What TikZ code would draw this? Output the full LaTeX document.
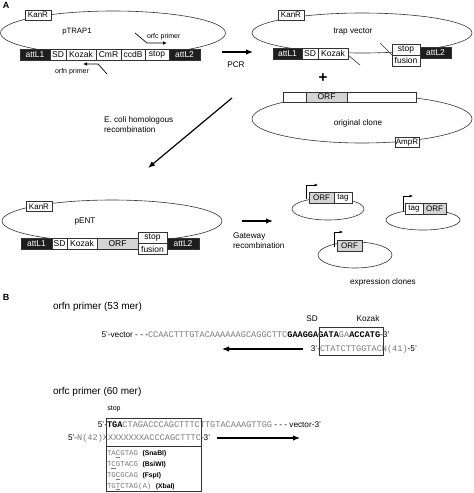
\documentclass[tikz,border=0pt]{standalone}
\usepackage{fontspec}
\setmainfont{Liberation Sans}
\newfontfamily\seqfont{Liberation Mono}
\usetikzlibrary{arrows.meta,positioning}

\definecolor{seqgray}{HTML}{7A7A7A}
\definecolor{orfgray}{HTML}{D4D4D4}
\definecolor{attblack}{HTML}{1E1E1E}
\definecolor{linegray}{HTML}{333333}

\newcommand{\gr}[1]{\textcolor{seqgray}{#1}}
\newcommand{\enz}[1]{{\normalfont\bfseries\fontsize{6.8}{7}\selectfont #1}}

\begin{document}
\begin{tikzpicture}[x=1pt, y=-1pt,
    every node/.style={inner sep=0pt, outer sep=0pt},
    blk/.style={draw=linegray, fill=white, line width=0.6pt, minimum height=11pt,
      font=\fontsize{8.5}{9}\selectfont},
    attblk/.style={blk, fill=attblack, text=white},
    orfblk/.style={blk, fill=orfgray},
    markerbox/.style={blk, minimum height=10pt, font=\fontsize{8}{9}\selectfont},
    clonebox/.style={blk, font=\fontsize{8}{9}\selectfont},
    plasmid/.style={draw=linegray, line width=0.6pt},
    bigarrow/.style={line width=1.2pt, -{Latex[length=7pt,width=5.5pt]}},
    primer/.style={line width=0.7pt, -{Latex[length=4pt,width=3.5pt]}},
    promoter/.style={line width=0.6pt, -{Latex[length=3.5pt,width=3pt]}},
    lbl/.style={font=\fontsize{8.2}{10.5}\selectfont},
    small/.style={font=\fontsize{7}{8}\selectfont},
    head/.style={font=\fontsize{10}{12}\selectfont},
    panel/.style={font=\bfseries\fontsize{9}{10}\selectfont},
    seq/.style={font=\seqfont\fontsize{8.6}{9}\selectfont},
    siteseq/.style={font=\seqfont\fontsize{7.4}{8}\selectfont},
  ]
\useasboundingbox (0,0) rectangle (474,493);

\node[panel] (panelA) at (6,5) {A};

\draw[plasmid] (113,33) ellipse [x radius=112.5pt, y radius=22pt];
\node[markerbox, minimum width=26pt] (pKanR) at (38,15) {KanR};
\node[font=\fontsize{7.7}{9}\selectfont] (ptrapName) at (77,32) {pTRAP1};
\node[attblk, minimum width=30pt, anchor=west] (pattL1) at (20,54.5) {attL1};
\node[blk, minimum width=16pt, right=0pt of pattL1] (pSD) {SD};
\node[blk, minimum width=30pt, right=0pt of pSD] (pKozak) {Kozak};
\node[blk, minimum width=25pt, right=0pt of pKozak] (pCmR) {CmR};
\node[blk, minimum width=24pt, right=0pt of pCmR] (pccdB) {ccdB};
\node[blk, minimum width=24pt, right=0pt of pccdB] (pstop) {stop};
\node[attblk, minimum width=31pt, right=0pt of pstop] (pattL2) {attL2};
\coordinate (orfcFrom) at (135,33);
\coordinate (orfcBend) at (147,43);
\coordinate (orfcTo) at (167,43);
\draw[primer] (orfcFrom) -- (orfcBend) -- (orfcTo);
\node[small, anchor=west] (orfcLbl) at (147,37) {orfc primer};
\coordinate (orfnFrom) at (107,74);
\coordinate (orfnBend) at (98,64);
\coordinate (orfnTo) at (83,64);
\draw[primer] (orfnFrom) -- (orfnBend) -- (orfnTo);
\node[small] (orfnLbl) at (72,72) {orfn primer};

\coordinate (pcrFrom) at (222,52);
\coordinate (pcrTo) at (253,52);
\draw[bigarrow] (pcrFrom) -- (pcrTo);
\node[lbl] (pcrLbl) at (236,65) {PCR};

\draw[plasmid] (362,33) ellipse [x radius=110pt, y radius=20pt];
\node[markerbox, minimum width=26pt] (tKanR) at (291,15) {KanR};
\node[lbl] (trapName) at (353,32) {trap vector};
\node[attblk, minimum width=29pt, anchor=west] (tattL1) at (273,53.5) {attL1};
\node[blk, minimum width=16pt, right=0pt of tattL1] (tSD) {SD};
\node[blk, minimum width=30pt, right=0pt of tSD] (tKozak) {Kozak};
\node[blk, minimum width=28pt, anchor=south west] (tstop) at (392,55) {stop};
\node[blk, minimum width=28pt, below=0pt of tstop] (tfusion) {fusion};
\node[attblk, minimum width=31pt, anchor=west] (tattL2) at (420,53) {attL2};
\coordinate (tcutL) at (360,65);
\coordinate (tcutR) at (380,43);
\draw[plasmid] ([yshift=-1.5pt]tKozak.east) -- (tcutL);
\draw[plasmid] (tcutR) -- (tstop.south west);

\node[font=\bfseries\fontsize{15}{15}\selectfont] (plus) at (323,78) {+};

\draw[plasmid] (362,119) ellipse [x radius=110pt, y radius=24pt];
\node[blk, minimum width=23pt, minimum height=10pt, anchor=west] (oLeft) at (283,97) {};
\node[orfblk, minimum width=41pt, minimum height=10pt, right=0pt of oLeft] (oORF) {ORF};
\node[blk, minimum width=69pt, minimum height=10pt, right=0pt of oORF] (oRight) {};
\node[lbl] (origName) at (358,123) {original clone};
\node[markerbox, minimum width=24pt] (oAmpR) at (407,142.5) {AmpR};

\coordinate (ecoliFrom) at (232,98);
\coordinate (ecoliTo) at (148,168);
\draw[bigarrow] (ecoliFrom) -- (ecoliTo);
\node[lbl, anchor=west, align=left] (ecoliLbl) at (104,124.5) {E. coli homologous\\recombination};

\draw[plasmid] (112,221) ellipse [x radius=110pt, y radius=21pt];
\node[markerbox, minimum width=26pt] (eKanR) at (39,206.5) {KanR};
\node[lbl] (pentName) at (85,222) {pENT};
\node[attblk, minimum width=31pt, anchor=west] (eattL1) at (21,243.5) {attL1};
\node[blk, minimum width=15pt, right=0pt of eattL1] (eSD) {SD};
\node[blk, minimum width=30pt, right=0pt of eSD] (eKozak) {Kozak};
\node[orfblk, minimum width=41pt, right=0pt of eKozak] (eORF) {ORF};
\node[blk, minimum width=29pt, anchor=south west] (estop) at (eORF.east) {stop};
\node[blk, minimum width=29pt, below=0pt of estop] (efusion) {fusion};
\node[attblk, minimum width=32pt, anchor=west] (eattL2) at (efusion.north east) {attL2};

\coordinate (gwFrom) at (242,221);
\coordinate (gwTo) at (273,221);
\draw[bigarrow] (gwFrom) -- (gwTo);
\node[lbl, anchor=west, align=left] (gwLbl) at (233,240.5) {Gateway\\recombination};

\draw[plasmid] (328,209) ellipse [x radius=36pt, y radius=11pt];
\node[clonebox, fill=orfgray, minimum width=25pt, anchor=west] (xaORF) at (309,197.5) {ORF};
\node[clonebox, minimum width=18pt, right=0pt of xaORF] (xaTag) {tag};
\coordinate (xaProm) at (306,199);
\coordinate (xaPromTo) at (318,185);
\draw[promoter] (xaProm) |- (xaPromTo);

\draw[plasmid] (423,220) ellipse [x radius=37pt, y radius=10pt];
\node[clonebox, minimum width=18pt, anchor=west] (xbTag) at (405,209) {tag};
\node[clonebox, fill=orfgray, minimum width=23pt, right=0pt of xbTag] (xbORF) {ORF};
\coordinate (xbProm) at (403,211);
\coordinate (xbPromTo) at (413,196);
\draw[promoter] (xbProm) |- (xbPromTo);

\draw[plasmid] (355,255) ellipse [x radius=37pt, y radius=13pt];
\node[clonebox, fill=orfgray, minimum width=25pt, anchor=west] (xcORF) at (337,245.5) {ORF};
\coordinate (xcProm) at (334,247);
\coordinate (xcPromTo) at (343,232);
\draw[promoter] (xcProm) |- (xcPromTo);
\node[lbl] (exprName) at (383,282) {expression clones};

\node[panel] (panelB) at (6,297) {B};
\node[head, anchor=west] (orfnHead) at (53,307) {orfn primer (53 mer)};
\node[lbl] (sdLbl) at (312,319) {SD};
\node[lbl] (kozakLbl) at (368,319) {Kozak};
\node[lbl, anchor=base east] (nVec) at (148,337) {5'-vector - - -\ };
\node[seq, anchor=base west] (nTop) at (148,337)
  {\gr{CCAACTTTGTACAAAAAAGCAGGCTTC}\textbf{GAAGGAGATA}\gr{GA}\textbf{ACCATG}};
\node[lbl, anchor=base west] (nTop3) at (nTop.base east) {-3'};
\node[lbl, anchor=base east] (nBot3) at (320,351) {3'-};
\node[seq, anchor=base west] (nBot) at (320,351) {\gr{CTATCTTGGTACN(41)}};
\node[lbl, anchor=base west] (nBot5) at (nBot.base east) {-5'};
\draw[line width=0.7pt, draw=linegray] (319,327) rectangle (383,355);
\coordinate (nArrFrom) at (303,349);
\coordinate (nArrTo) at (222,349);
\draw[bigarrow] (nArrFrom) -- (nArrTo);

\node[head, anchor=west] (orfcHead) at (53,392) {orfc primer (60 mer)};
\node[small] (stopLbl) at (114,409) {stop};
\node[lbl, anchor=base east] (cTop5) at (107,427) {5'-};
\node[seq, anchor=base west] (cTop) at (107,427)
  {\textbf{TGA}\gr{CTAGACCCAGCTTTCTTGTACAAAGTTGG}};
\node[lbl, anchor=base west] (cTop3) at (cTop.base east) {\ - - - vector-3'};
\node[seq, anchor=base east] (cBot) at (201,440) {\gr{N(42)XXXXXXXXACCCAGCTTTC}};
\node[lbl, anchor=base east] (cBot5) at (cBot.base west) {5'-};
\node[lbl, anchor=base west] (cBot3) at (cBot.base east) {-3'};
\draw[line width=0.7pt, draw=linegray] (106,418) rectangle (201.5,491);
\draw[line width=0.6pt, draw=linegray] (106,446) -- (201.5,446);
\node[siteseq, anchor=base west] (siteA) at (107,455.5) {\gr{TA\underline{C}GTAG} \enz{(SnaBI)}};
\node[siteseq, anchor=base west] (siteB) at (107,466.5) {\gr{T\underline{C}GTACG} \enz{(BsiWI)}};
\node[siteseq, anchor=base west] (siteC) at (107,477.5) {\gr{TG\underline{C}GCAG} \enz{(FspI)}};
\node[siteseq, anchor=base west] (siteD) at (107,488) {\gr{TG\underline{T}CTAG(A)} \enz{(XbaI)}};
\coordinate (cArrFrom) at (217,438);
\coordinate (cArrTo) at (300,438);
\draw[bigarrow] (cArrFrom) -- (cArrTo);
\end{tikzpicture}
\end{document}
